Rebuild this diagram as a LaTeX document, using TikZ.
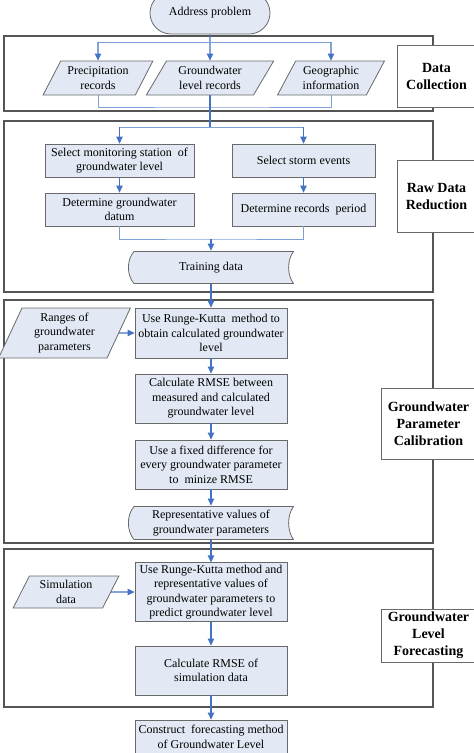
\documentclass[tikz,border=0pt]{standalone}
\usepackage{fontspec}
\setmainfont{Liberation Serif}
\usepackage{xcolor}
\usepackage{tikz}
\usetikzlibrary{shapes.geometric,shapes.misc,arrows.meta,positioning,calc}
\definecolor{FCfill}{RGB}{226,233,244}
\definecolor{FCline}{RGB}{105,105,105}
\definecolor{FCframe}{RGB}{85,85,85}
\definecolor{FCblue}{RGB}{68,114,196}
\definecolor{FClight}{RGB}{125,160,215}
\tikzstyle{fbox}   = [rectangle, draw=FCline, fill=FCfill, line width=0.8pt,
                      align=center, inner sep=2pt,
                      font=\fontsize{12}{14.5}\selectfont]
\tikzstyle{Bprc}   = [fbox, minimum width=152pt, minimum height=49pt]
\tikzstyle{Bsel}   = [fbox, minimum height=33pt]
\tikzstyle{Bio}    = [fbox, trapezium, trapezium left angle=60,
                      trapezium right angle=120, trapezium stretches=true]
\tikzstyle{Bterm}  = [fbox, rounded rectangle, minimum width=124pt,
                      minimum height=42pt]
\tikzstyle{Bdata}  = [fbox, draw=none, fill=none, minimum width=166pt,
                      path picture={
                        \filldraw[fill=FCfill, draw=FCline, line width=0.8pt]
                          let \p1=(path picture bounding box.south west),
                              \p2=(path picture bounding box.north east) in
                          (\x1+6pt,\y2-0.5pt) -- (\x2-0.5pt,\y2-0.5pt)
                          .. controls (\x2-7pt,\y2-9pt) and (\x2-7pt,\y1+9pt) .. (\x2-0.5pt,\y1+0.5pt)
                          -- (\x1+6pt,\y1+0.5pt)
                          .. controls (\x1-1.5pt,\y1+9pt) and (\x1-1.5pt,\y2-9pt) .. (\x1+6pt,\y2-0.5pt)
                          -- cycle;}]
\tikzstyle{Blbl}   = [rectangle, draw=FCline, fill=white, line width=0.8pt,
                      align=center, inner sep=2pt,
                      font=\fontsize{14}{17}\selectfont\bfseries]
\tikzstyle{Bframe} = [draw=FCframe, line width=1.2pt]
\tikzstyle{flow}   = [-{Triangle[length=7pt,width=6.5pt]}, draw=FCblue, line width=1.1pt]
\tikzstyle{merge}  = [draw=FClight, line width=0.9pt]

\begin{document}
\begin{tikzpicture}[x=1pt, y=-1pt]
  \useasboundingbox (0,0) rectangle (474,753);

  % stage frames
  \draw[Bframe] (4,36)  rectangle (433,111);
  \draw[Bframe] (4,121) rectangle (433,292);
  \draw[Bframe] (4,300) rectangle (433,543);
  \draw[Bframe] (4,549) rectangle (433,707);

  % stage labels
  \node[Blbl, minimum width=79pt, minimum height=62pt] (lblA) at (436.5,76)  {Data\\Collection};
  \node[Blbl, minimum width=79pt, minimum height=72pt] (lblB) at (436.5,196) {Raw Data\\Reduction};
  \node[Blbl, minimum width=95pt, minimum height=71pt] (lblC) at (428.5,423.5) {Groundwater\\Parameter\\Calibration};
  \node[Blbl, minimum width=95pt, minimum height=53pt] (lblD) at (428.5,635.5) {Groundwater\\Level\\Forecasting};

  % data collection
  \node[Bterm] (addr) at (210,13) {Address problem};
  \node[Bio, minimum width=110pt, minimum height=34pt] (prec) at (98,78)  {Precipitation\\records};
  \node[Bio, minimum width=128pt, minimum height=34pt] (gwr)  at (210,78) {Groundwater\\level records};
  \node[Bio, minimum width=108pt, minimum height=34pt] (geo)  at (331,78) {Geographic\\information};

  % raw data reduction
  \node[Bsel, minimum width=149pt] (sel)    at (119.5,160.5) {Select monitoring station\ \ of\\groundwater level};
  \node[Bsel, minimum width=143pt] (storm)  at (303.5,160.5) {Select storm events};
  \node[Bsel, minimum width=149pt] (datum)  at (119.5,209.5) {Determine groundwater\\datum};
  \node[Bsel, minimum width=143pt] (period) at (303.5,209.5) {Determine records\ \ period};
  \node[Bdata, minimum height=33pt] (train) at (211,267.5) {Training data};

  % calibration
  \node[Bio, trapezium left angle=68, trapezium right angle=112,
        minimum width=133pt, minimum height=50pt] (ranges) at (64.5,333) {Ranges of\\groundwater\\parameters};
  \node[Bprc, minimum height=50pt] (rk1)   at (211,333)   {Use Runge-Kutta\ \ method to\\obtain calculated groundwater\\level};
  \node[Bprc] (rmse1) at (211,398.5) {Calculate RMSE between\\measured and calculated\\groundwater level};
  \node[Bprc] (fixd)  at (211,464.5) {Use a fixed difference for\\every groundwater parameter\\to\ \ minize RMSE};
  \node[Bdata, minimum height=34pt] (rep) at (211,523) {Representative values of\\groundwater parameters};

  % forecasting
  \node[Bio, trapezium left angle=65, trapezium right angle=115,
        minimum width=106pt, minimum height=32pt] (sim) at (66,592) {Simulation\\data};
  \node[Bprc, minimum height=58pt] (rk2)   at (211,592)   {Use Runge-Kutta method and\\representative values of\\groundwater parameters to\\predict groundwater level};
  \node[Bprc] (rmse2) at (211,670.5) {Calculate RMSE of\\simulation data};
  \node[Bprc, minimum height=48pt] (cons)  at (211,744) {Construct\ \ forecasting method\\of Groundwater Level\\\mbox{}};

  % connectors
  \coordinate (b1) at (210,42);
  \coordinate (m1) at (210,107);
  \coordinate (b2) at (210,127);
  \coordinate (m2) at (211,239);
  \draw[flow] (addr) -- (gwr);
  \draw[merge] (prec.north |- b1) -- (geo.north |- b1);
  \draw[flow] (prec.north |- b1) -- (prec);
  \draw[flow] (geo.north |- b1) -- (geo);
  \draw[merge] (prec.south) |- (m1) -| (geo.south);
  \draw[flow, -] (gwr) -- (b2);
  \draw[merge] (sel.north |- b2) -- (storm.north |- b2);
  \draw[flow] (sel.north |- b2) -- (sel);
  \draw[flow] (storm.north |- b2) -- (storm);
  \draw[flow] (sel) -- (datum);
  \draw[flow] (storm) -- (period);
  \draw[merge] (datum.south) |- (m2) -| (period.south);
  \draw[flow] (m2) -- (train);
  \draw[flow] (train) -- (rk1);
  \draw[flow] (ranges) -- (rk1);
  \draw[flow] (rk1) -- (rmse1);
  \draw[flow] (rmse1) -- (fixd);
  \draw[flow] (fixd) -- (rep);
  \draw[flow] (rep) -- (rk2);
  \draw[flow] (sim) -- (rk2);
  \draw[flow] (rk2) -- (rmse2);
  \draw[flow] (rmse2) -- (cons);
\end{tikzpicture}
\end{document}
